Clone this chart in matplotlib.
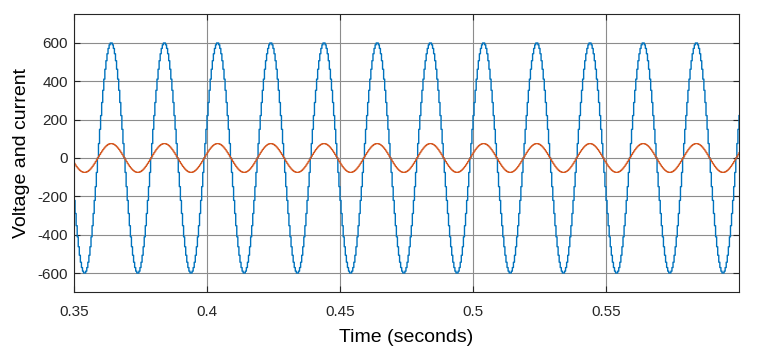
import numpy as np
import matplotlib.pyplot as plt

# waveform parameters
t_start, t_end = 0.35, 0.6
t_step = 0.0004          # solver sample time (visible staircase)
freq = 50.0              # Hz, one period = 0.02 s
t_peak = 0.0038          # first peak offset inside each period
v_amp = 600.0            # voltage peak
i_amp = 75.0             # current peak

xticks = [0.35, 0.4, 0.45, 0.5, 0.55]
xticklabels = ['0.35', '0.4', '0.45', '0.5', '0.55']
yticks = [-600, -400, -200, 0, 200, 400, 600]

t = np.arange(t_start, t_end + t_step, t_step)
voltage = v_amp * np.cos(2 * np.pi * freq * (t - t_peak))
current = i_amp * np.cos(2 * np.pi * freq * (t - t_peak))

plt.rcParams['font.family'] = ['Liberation Sans', 'DejaVu Sans']
plt.rcParams['axes.unicode_minus'] = False

fig = plt.figure(figsize=(7.62, 3.57), dpi=100)
ax = fig.add_axes([0.0971, 0.181, 0.8727, 0.7798])

ax.plot(t, voltage, color='#0072BD', linewidth=1.0, drawstyle='steps-post')
ax.plot(t, current, color='#D4561E', linewidth=0.9, drawstyle='steps-post')

ax.set_xlim(t_start, t_end)
ax.set_ylim(-700, 750)
ax.set_xticks(xticks)
ax.set_xticklabels(xticklabels)
ax.set_yticks(yticks)

ax.grid(True, color='#8c8c8c', linewidth=0.8)
ax.tick_params(direction='in', length=4, top=True, right=True,
               labelsize=11, colors='#262626')
ax.tick_params(axis='x', pad=9)
ax.tick_params(axis='y', pad=4.5)
for s in ax.spines.values():
    s.set_color('#262626')
    s.set_linewidth(0.8)

ax.set_xlabel('Time (seconds)', fontsize=14, color='#000000', labelpad=7)
ax.set_ylabel('Voltage and current', fontsize=14, color='#000000', labelpad=5)

fig.savefig('out.png', dpi=100)
